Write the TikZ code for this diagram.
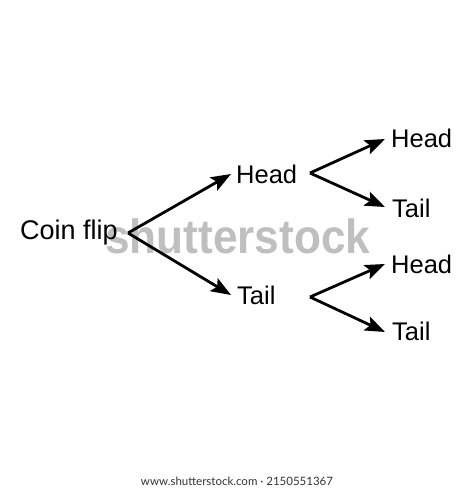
\documentclass[tikz,border=0pt]{standalone}
\usepackage{fontspec}
\setmainfont{Liberation Sans}
\newfontfamily\footfont{Lato}
\usetikzlibrary{arrows.meta}
\tikzset{
  lbl/.style={anchor=base west, inner sep=0pt, font=\fontsize{25.5}{25}\selectfont},
  branch/.style={line width=2.8pt, -{Stealth[length=20pt,width=15pt,inset=4pt]}},
  wm/.style={anchor=base west, inner sep=0pt, text=black!25, xscale=0.92, transform shape, font=\fontsize{48}{48}\selectfont\bfseries},
  foot/.style={anchor=base, inner sep=0pt, text=black!80, font=\footfont\fontsize{11.5}{12}\selectfont}
}
\begin{document}
\begin{tikzpicture}[x=1pt,y=-1pt]
\useasboundingbox[fill=white] (0,0) rectangle (474,489);
% watermark
\node[wm] (wmark) at (105,253) {shutterstock};
\node[foot] (footer) at (237,485) {www.shutterstock.com · 2150551367};
% labels
\node[lbl, font=\fontsize{27}{27}\selectfont] (coin) at (20,239.5) {Coin flip};
\node[lbl] (h1) at (236,183) {Head};
\node[lbl] (t1) at (237,304) {Tail};
\node[lbl] (hh) at (391,147.5) {Head};
\node[lbl] (ht) at (392,217) {Tail};
\node[lbl] (th) at (391,273.5) {Head};
\node[lbl] (tt) at (392,340) {Tail};
% branch points
\coordinate (c0) at (128,233);
\coordinate (c1) at (310,173);
\coordinate (c2) at (310,297);
\coordinate (a1) at (231,174);
\coordinate (a2) at (231,295);
\coordinate (b1) at (385,139);
\coordinate (b2) at (385,207);
\coordinate (b3) at (385,264);
\coordinate (b4) at (385,332);
\draw[branch] (c0) -- (a1);
\draw[branch] (c0) -- (a2);
\draw[branch] (c1) -- (b1);
\draw[branch] (c1) -- (b2);
\draw[branch] (c2) -- (b3);
\draw[branch] (c2) -- (b4);
\end{tikzpicture}
\end{document}
